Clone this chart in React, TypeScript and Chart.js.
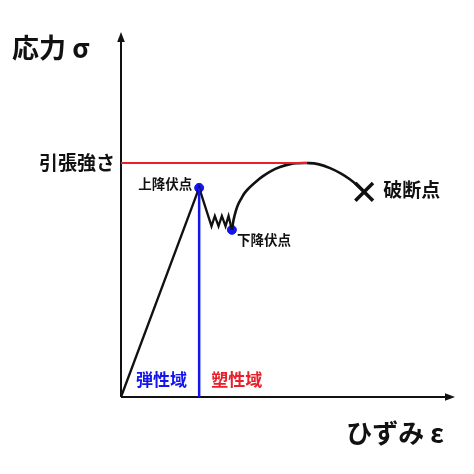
import React, { useEffect, useRef } from "react";
import { Chart, registerables } from "chart.js";

Chart.register(...registerables);

// ---- data (strain / stress in arbitrary units) ----
const axisMax = 100;
const elasticStrain = [0, 23.4];
const elasticStress = [0, 57.3];
const yieldStrain = [23.4, 27.1, 28.1, 29.2, 30.2, 31.3, 32.2, 33.2];
const yieldStress = [57.3, 46.8, 49.6, 46.8, 49.6, 46.8, 49.6, 45.8];
const hardeningStrain = [33.2, 33.7, 34.3, 35.0, 36.1, 37.1, 38.6, 40.4, 42.5, 44.9, 47.6, 50.6, 53.0, 55.7, 59.0, 62.6, 65.9, 68.6, 71.0, 72.8];
const hardeningStress = [45.8, 48.5, 50.7, 52.6, 54.5, 56.0, 57.5, 59.0, 60.5, 61.9, 63.0, 63.8, 64.05, 64.1, 63.8, 62.7, 61.2, 59.6, 57.8, 56.2];
const tensileStrength = 64.1;
const tensileStrain = 55.7;
const upperYield = [23.4, 57.3];
const lowerYield = [33.2, 45.8];
const breakPoint = [72.8, 56.2];

const FONT = '"Noto Sans CJK JP", "Noto Sans CJK SC", sans-serif';
const BLUE = "#1414f0";
const RED = "#e8202a";

const pts = (xs: number[], ys: number[]) => xs.map((x, i) => ({ x, y: ys[i] }));

type Label = {
  text: string;
  at: [number, number];
  dx: number;
  dy: number;
  size: number;
  color: string;
  align: CanvasTextAlign;
};

const labels: Label[] = [
  { text: "応力 σ", at: [0, axisMax], dx: -109, dy: 16, size: 27, color: "#111", align: "left" },
  { text: "引張強さ", at: [0, tensileStrength], dx: -6, dy: 0, size: 19, color: "#111", align: "right" },
  { text: "上降伏点", at: [upperYield[0], upperYield[1]], dx: -7, dy: -4, size: 13.5, color: "#111", align: "right" },
  { text: "下降伏点", at: [lowerYield[0], lowerYield[1]], dx: 5, dy: 10, size: 13.5, color: "#111", align: "left" },
  { text: "破断点", at: [breakPoint[0], breakPoint[1]], dx: 19, dy: -2, size: 19, color: "#111", align: "left" },
  { text: "弾性域", at: [0, 0], dx: 15, dy: -17, size: 17, color: BLUE, align: "left" },
  { text: "塑性域", at: [upperYield[0], 0], dx: 12, dy: -17, size: 17, color: RED, align: "left" },
  { text: "ひずみ ε", at: [axisMax, 0], dx: -11, dy: 36, size: 26, color: "#111", align: "right" },
];

const decorPlugin = {
  id: "decor",
  beforeDatasetsDraw(chart: any) {
    const { ctx, scales } = chart;
    const xs = scales.x;
    const ys = scales.y;
    const x0 = xs.getPixelForValue(0);
    const y0 = ys.getPixelForValue(0);
    const xEnd = xs.getPixelForValue(axisMax);
    const yEnd = ys.getPixelForValue(axisMax);
    ctx.save();
    ctx.strokeStyle = "#111";
    ctx.fillStyle = "#111";
    ctx.lineWidth = 2;
    ctx.beginPath();
    ctx.moveTo(x0, y0);
    ctx.lineTo(xEnd - 6, y0);
    ctx.moveTo(x0, y0);
    ctx.lineTo(x0, yEnd + 6);
    ctx.stroke();
    // arrow heads
    ctx.beginPath();
    ctx.moveTo(xEnd, y0);
    ctx.lineTo(xEnd - 10, y0 - 3.8);
    ctx.lineTo(xEnd - 10, y0 + 3.8);
    ctx.closePath();
    ctx.fill();
    ctx.beginPath();
    ctx.moveTo(x0, yEnd);
    ctx.lineTo(x0 - 3.8, yEnd + 10);
    ctx.lineTo(x0 + 3.8, yEnd + 10);
    ctx.closePath();
    ctx.fill();
    ctx.restore();
  },
  afterDatasetsDraw(chart: any) {
    const { ctx, scales } = chart;
    ctx.save();
    ctx.textBaseline = "middle";
    for (const l of labels) {
      const px = scales.x.getPixelForValue(l.at[0]) + l.dx;
      const py = scales.y.getPixelForValue(l.at[1]) + l.dy;
      ctx.font = `bold ${l.size}px ${FONT}`;
      ctx.fillStyle = l.color;
      ctx.textAlign = l.align;
      ctx.fillText(l.text, px, py);
    }
    ctx.restore();
  },
};

export default function App() {
  const ref = useRef<HTMLCanvasElement | null>(null);
  useEffect(() => {
    document.body.style.margin = "0";
    if (!ref.current) return;
    const chart = new Chart(ref.current, {
      type: "scatter",
      data: {
        datasets: [
          {
            data: [
              { x: 0, y: tensileStrength },
              { x: tensileStrain, y: tensileStrength },
            ],
            showLine: true,
            borderColor: RED,
            borderWidth: 2,
            pointRadius: 0,
            clip: false,
          } as any,
          {
            data: [
              { x: upperYield[0], y: upperYield[1] },
              { x: upperYield[0], y: 0 },
            ],
            showLine: true,
            borderColor: BLUE,
            borderWidth: 2.5,
            pointRadius: 0,
            clip: false,
          },
          {
            data: pts(elasticStrain, elasticStress).concat(pts(yieldStrain, yieldStress).slice(1)),
            showLine: true,
            borderColor: "#111",
            borderWidth: 2.3,
            pointRadius: 0,
            tension: 0,
            clip: false,
          },
          {
            data: pts(hardeningStrain, hardeningStress),
            showLine: true,
            borderColor: "#111",
            borderWidth: 2.6,
            pointRadius: 0,
            tension: 0.4,
            clip: false,
          },
          {
            data: [
              { x: upperYield[0], y: upperYield[1] },
              { x: lowerYield[0], y: lowerYield[1] },
            ],
            showLine: false,
            pointRadius: 4.5,
            pointBackgroundColor: BLUE,
            pointBorderColor: BLUE,
            clip: false,
          },
          {
            data: [{ x: breakPoint[0], y: breakPoint[1] }],
            showLine: false,
            pointStyle: "crossRot",
            pointRadius: 12.5,
            pointBorderWidth: 3.5,
            pointBorderColor: "#111",
            clip: false,
          },
        ],
      },
      options: {
        responsive: false,
        animation: false,
        events: [],
        layout: { padding: { left: 121, right: 19, top: 32, bottom: 77 } },
        plugins: { legend: { display: false }, tooltip: { enabled: false } },
        scales: {
          x: { type: "linear", min: 0, max: axisMax, display: false },
          y: { type: "linear", min: 0, max: axisMax, display: false },
        },
      },
      plugins: [decorPlugin],
    });
    return () => chart.destroy();
  }, []);
  return (
    <div style={{ width: 474, height: 474, background: "#fff" }}>
      <canvas ref={ref} width={474} height={474} style={{ width: 474, height: 474, display: "block" }} />
    </div>
  );
}
